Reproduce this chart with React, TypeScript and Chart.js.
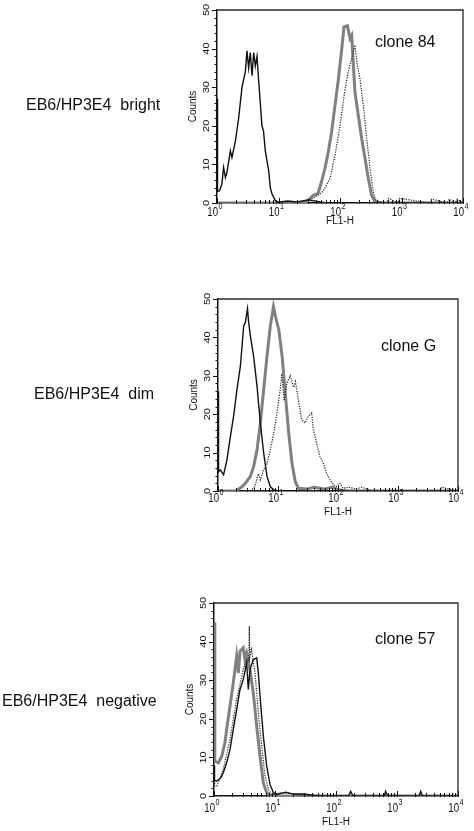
import React, { useEffect, useRef } from 'react';
import { Chart, registerables } from 'chart.js';

Chart.register(...registerables);

// ---------- axis / text content ----------
const decades = [1, 10, 100, 1000, 10000];
const decadeBase = '10';
const decadeExps = ['0', '1', '2', '3', '4'];
const countTicks = [0, 10, 20, 30, 40, 50];
const rowLabels = ['EB6/HP3E4  bright', 'EB6/HP3E4  dim', 'EB6/HP3E4  negative'];
const cloneLabels = ['clone 84', 'clone G', 'clone 57'];
const xTitle = 'FL1-H';
const yTitle = 'Counts';

// ---------- panel 1: bright (clone 84) ----------
const brightControlX = [1, 1.02, 1.1, 1.2, 1.28, 1.37, 1.45, 1.65, 1.75, 1.99, 2.25, 2.55, 2.89, 3.07, 3.27, 3.48, 3.71, 3.95, 4.2, 4.47, 4.76, 5.38, 5.7, 6.1, 6.92, 7.36, 7.84, 8.89, 10, 14, 20, 30, 60, 10000];
const brightControlY = [27, 3, 3.2, 4.9, 9.2, 6.6, 7.9, 13.5, 11.8, 16, 22, 30, 34, 39.4, 35, 39, 33, 39, 35.5, 38, 31.6, 20, 18.7, 13.5, 8.4, 4, 2.3, 0.6, 0.2, 0.5, 0.3, 0.8, 0, 0];
const brightEb6X = [1, 20, 28.7, 36.8, 44, 50, 57, 64.6, 73, 83, 94, 107, 116, 132, 146, 155, 165, 175, 198, 225, 255, 288, 327, 371, 500, 10000];
const brightEb6Y = [0, 0, 0.3, 2, 2.5, 5.5, 9, 13.3, 18.4, 25.3, 32, 40, 45.6, 45.9, 42.6, 43.4, 35.7, 28.8, 22.8, 16.7, 11.6, 6.4, 2, 0.3, 0, 0];
const brightHpX = [1, 20, 36.8, 53, 69, 83, 100, 121, 136, 155, 175, 191, 211, 239, 272, 307, 347, 390, 580, 620, 880, 930, 2900, 3100, 5500, 6000, 7500, 8000, 10000];
const brightHpY = [0, 0, 1.2, 3, 6.4, 12.4, 20, 29.6, 34, 37.4, 40.9, 35.7, 32.2, 25.3, 16.7, 9, 2.9, 0.3, 0, 1.2, 0, 1.2, 0, 1, 0, 1, 0, 1, 0];

// ---------- panel 2: dim (clone G) ----------
const dimControlX = [1, 1.02, 1.09, 1.24, 1.41, 1.61, 1.82, 2.07, 2.36, 2.68, 2.86, 3.1, 3.24, 3.46, 3.93, 4.47, 5.08, 5.77, 6.56, 7.45, 8.5, 10, 20, 10000];
const dimControlY = [26, 5, 5.5, 4.2, 8.1, 14.2, 19.5, 26.4, 32.5, 43, 43.9, 47.5, 44, 40.4, 35, 27.3, 17.7, 9.9, 3.8, 1.1, 0.3, 0, 0, 0];
const dimEb6X = [1, 2, 2.5, 2.86, 3.46, 3.93, 4.47, 5.08, 5.77, 6.56, 7.45, 8.4, 9.03, 10.3, 11.7, 13.2, 15.1, 17.1, 19.4, 22, 30, 40, 60, 80, 100, 150, 10000];
const dimEb6Y = [0, 0, 1.1, 2, 3.8, 6.4, 10.7, 17.7, 26.4, 35.2, 43, 48, 45.6, 42, 35.2, 25.6, 15, 7.2, 2.4, 0.7, 0.5, 1, 0.5, 1, 0.3, 0, 0];
const dimHpX = [1, 3.5, 4.1, 4.7, 5.08, 5.77, 6.56, 7.45, 8.47, 9.6, 10.9, 11.6, 12.6, 14.1, 16, 18.2, 19.5, 21.8, 24.8, 28.2, 32, 36.4, 38.8, 44, 50, 57, 64.7, 73.6, 83.6, 95, 108, 122, 150, 200, 250, 300, 350, 5000, 5300, 10000];
const dimHpY = [0, 0, 1.1, 4.5, 2.9, 5.5, 7.2, 10.7, 15, 20.3, 26.4, 30.5, 23.5, 28.2, 30, 27, 28.5, 23.8, 18.6, 17.7, 19.5, 20.3, 16, 12.5, 9, 7.2, 4.6, 2.9, 1.6, 1.1, 2, 0.7, 1, 0.5, 1, 0.5, 0, 0, 1, 0];

// ---------- panel 3: negative (clone 57) ----------
const negControlX = [1, 1.02, 1.11, 1.3, 1.42, 1.61, 1.83, 2.07, 2.35, 2.67, 3.02, 3.43, 3.65, 3.89, 4.41, 5.01, 5.33, 5.68, 6.44, 7.3, 8.28, 9.4, 10.7, 15, 20, 30, 50, 160, 174, 190, 620, 650, 700, 2300, 2450, 2600, 10000];
const negControlY = [8, 4, 3.9, 4.7, 6, 8.6, 12, 17.2, 22.4, 27.6, 30.2, 34.5, 27.6, 32.8, 35.3, 35.8, 31.9, 25.9, 15.5, 7.8, 3, 0.9, 0.4, 1, 0.5, 0.5, 0, 0, 1.2, 0, 0, 1.2, 0, 0, 1.2, 0, 0];
const negEb6X = [1, 1.03, 1.18, 1.34, 1.51, 1.61, 1.83, 2.07, 2.35, 2.51, 2.67, 3.02, 3.22, 3.43, 3.89, 4.41, 5.01, 5.68, 6.44, 7.3, 8.3, 12, 10000];
const negEb6Y = [45, 9, 8.6, 10.3, 13.8, 17.2, 23.3, 29.3, 36.2, 31.9, 37.5, 38.4, 35.3, 37, 32.8, 26.7, 18.1, 10.3, 3.4, 0.9, 0.2, 0, 0];
const negHpX = [1, 1.03, 1.11, 1.42, 1.83, 2.35, 3.02, 3.43, 3.72, 3.79, 3.86, 4.1, 4.7, 5.33, 6.05, 6.85, 7.8, 8.8, 12, 20, 30, 10000];
const negHpY = [6, 2.6, 2.6, 6.9, 14.7, 25, 32.8, 35.3, 35, 44, 36, 38, 31.9, 21.6, 12.9, 5.2, 1.7, 0.4, 0.8, 0.6, 0, 0];

const panelSeries = [
  { control: [brightControlX, brightControlY], eb6: [brightEb6X, brightEb6Y], hp: [brightHpX, brightHpY] },
  { control: [dimControlX, dimControlY], eb6: [dimEb6X, dimEb6Y], hp: [dimHpX, dimHpY] },
  { control: [negControlX, negControlY], eb6: [negEb6X, negEb6Y], hp: [negHpX, negHpY] },
];

// ---------- layout (positions only) ----------
const layouts = [
  { top: 0, height: 232, padL: 187, padR: 11, padT: 10, padB: 5, xH: 24, labelDy: 4, label: { left: 26, top: 96 }, clone: { left: 375, top: 33 } },
  { top: 236, height: 285, padL: 188, padR: 16, padT: 63, padB: 3, xH: 27, labelDy: 2, label: { left: 34, top: 385 }, clone: { left: 381, top: 337 } },
  { top: 540, height: 291, padL: 184, padR: 16, padT: 63, padB: 3, xH: 32, labelDy: 6.5, label: { left: 2, top: 692 }, clone: { left: 375, top: 630 } },
];

const FONT = "'Liberation Sans', Arial, Helvetica, sans-serif";
const SQUEEZE = 0.8;

const toPoints = (xs: number[], ys: number[]) => xs.map((x, i) => ({ x, y: ys[i] }));

function makeDecor(labelDy: number) {
  return {
    id: 'decor',
    afterDraw(chart: any) {
      const { ctx, chartArea: a, scales } = chart;
      const x = scales.x;
      const y = scales.y;
      ctx.save();
      // frame top and right
      ctx.strokeStyle = '#2a2a2a';
      ctx.lineWidth = 1.3;
      ctx.beginPath();
      ctx.moveTo(a.left, a.top);
      ctx.lineTo(a.right, a.top);
      ctx.lineTo(a.right, a.bottom);
      ctx.stroke();
      // x ticks (inward), decades and minor
      ctx.strokeStyle = '#111';
      ctx.lineWidth = 1;
      ctx.beginPath();
      for (let k = 0; k < decades.length; k++) {
        for (let m = 1; m < 10; m++) {
          const v = decades[k] * m;
          if (v > decades[decades.length - 1]) break;
          const px = Math.round(x.getPixelForValue(v)) + 0.5;
          const len = m === 1 ? 5 : 3;
          ctx.moveTo(px, a.bottom + 1);
          ctx.lineTo(px, a.bottom - len);
        }
      }
      // y ticks (outward), majors every 10, minors every 2
      const yMax = countTicks[countTicks.length - 1];
      for (let v = 0; v <= yMax; v += 2) {
        const py = Math.round(y.getPixelForValue(v)) + 0.5;
        const len = v % 10 === 0 ? 5 : 2.5;
        ctx.moveTo(a.left, py);
        ctx.lineTo(a.left - len, py);
      }
      ctx.stroke();
      ctx.fillStyle = '#111';
      // rotated y labels (squeezed across, like the scan)
      ctx.font = `11px ${FONT}`;
      ctx.textAlign = 'center';
      ctx.textBaseline = 'bottom';
      for (const t of countTicks) {
        const py = y.getPixelForValue(t);
        ctx.save();
        ctx.translate(a.left - 6, py);
        ctx.scale(SQUEEZE, 1);
        ctx.rotate(-Math.PI / 2);
        ctx.fillText(String(t), 0, 0);
        ctx.restore();
      }
      // x decade labels: 10 with superscript exponent
      for (let i = 0; i < decades.length; i++) {
        const px = x.getPixelForValue(decades[i]);
        ctx.save();
        ctx.translate(px + 1, a.bottom + labelDy);
        ctx.scale(SQUEEZE, 1);
        ctx.textBaseline = 'top';
        ctx.font = `12px ${FONT}`;
        ctx.textAlign = 'right';
        ctx.fillText(decadeBase, 0, 0);
        ctx.font = `9px ${FONT}`;
        ctx.textAlign = 'left';
        ctx.fillText(decadeExps[i], 0.5, -4.5);
        ctx.restore();
      }
      ctx.restore();
    },
  };
}

function Panel({ index }: { index: number }) {
  const ref = useRef<HTMLCanvasElement>(null);
  const lay = layouts[index];
  useEffect(() => {
    const s = panelSeries[index];
    const chart = new Chart(ref.current as HTMLCanvasElement, {
      type: 'line',
      data: {
        datasets: [
          {
            label: 'control',
            data: toPoints(s.control[0], s.control[1]),
            borderColor: '#111111',
            borderWidth: 1.4,
            pointRadius: 0,
            tension: 0,
            fill: false,
          },
          {
            label: 'HP3E4',
            data: toPoints(s.hp[0], s.hp[1]),
            borderColor: '#222222',
            borderWidth: 1.2,
            borderDash: [1.2, 1.3],
            pointRadius: 0,
            tension: 0,
            fill: false,
          },
          {
            label: 'EB6',
            data: toPoints(s.eb6[0], s.eb6[1]),
            borderColor: '#808080',
            borderWidth: 3,
            pointRadius: 0,
            tension: 0,
            fill: false,
          },
        ],
      },
      options: {
        responsive: false,
        animation: false,
        events: [],
        layout: { padding: { left: lay.padL, right: lay.padR, top: lay.padT, bottom: lay.padB } },
        plugins: { legend: { display: false }, tooltip: { enabled: false } },
        scales: {
          x: {
            type: 'logarithmic',
            min: decades[0],
            max: decades[decades.length - 1],
            afterBuildTicks: (scale: any) => {
              scale.ticks = decades.map((v) => ({ value: v }));
            },
            afterFit: (scale: any) => {
              scale.height = lay.xH;
            },
            grid: { display: false, drawTicks: false },
            border: { display: true, color: '#111', width: 1.5 },
            ticks: { display: false },
            title: {
              display: true,
              text: xTitle,
              color: '#111',
              font: { family: FONT, size: 10 },
              padding: { top: 0, bottom: 0 },
            },
          },
          y: {
            type: 'linear',
            min: countTicks[0],
            max: countTicks[countTicks.length - 1],
            afterFit: (scale: any) => {
              scale.width = 30;
            },
            grid: { display: false, drawTicks: false },
            border: { display: true, color: '#111', width: 1.5 },
            ticks: { display: false, stepSize: 10 },
            title: {
              display: true,
              text: yTitle,
              color: '#111',
              font: { family: FONT, size: 10 },
              padding: { top: 0, bottom: 0 },
            },
          },
        },
      },
      plugins: [makeDecor(lay.labelDy)],
    } as any);
    return () => chart.destroy();
  }, [index]);
  return (
    <canvas
      ref={ref}
      width={474}
      height={lay.height}
      style={{ position: 'absolute', left: 0, top: lay.top, display: 'block' }}
    />
  );
}

export default function App() {
  const textStyle: React.CSSProperties = {
    position: 'absolute',
    fontFamily: FONT,
    fontSize: 16,
    lineHeight: '18px',
    color: '#111',
    whiteSpace: 'pre',
  };
  return (
    <div style={{ position: 'absolute', left: 0, top: 0, width: 474, height: 831, background: '#fff', overflow: 'hidden' }}>
      {layouts.map((lay, i) => (
        <React.Fragment key={i}>
          <Panel index={i} />
          <div style={{ ...textStyle, left: lay.label.left, top: lay.label.top }}>{rowLabels[i]}</div>
          <div style={{ ...textStyle, left: lay.clone.left, top: lay.clone.top }}>{cloneLabels[i]}</div>
        </React.Fragment>
      ))}
    </div>
  );
}
